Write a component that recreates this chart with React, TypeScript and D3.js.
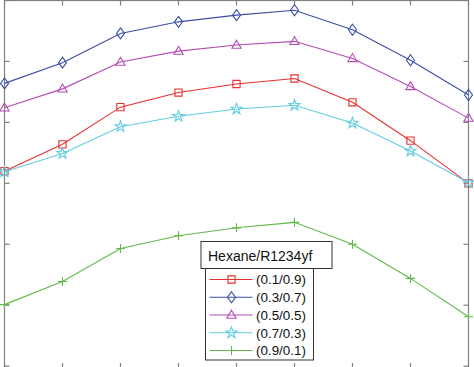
import React from "react";
import * as d3 from "d3";

const xValues = [0, 1, 2, 3, 4, 5, 6, 7, 8];
const seriesNames = ["(0.1/0.9)", "(0.3/0.7)", "(0.5/0.5)", "(0.7/0.3)", "(0.9/0.1)"];
const s01 = [3.2, 3.64, 4.25, 4.49, 4.63, 4.72, 4.33, 3.7, 3.0];
const s03 = [4.64, 4.98, 5.46, 5.65, 5.76, 5.84, 5.52, 5.02, 4.45];
const s05 = [4.24, 4.55, 4.99, 5.17, 5.27, 5.33, 5.05, 4.59, 4.07];
const s07 = [3.19, 3.49, 3.93, 4.1, 4.22, 4.28, 3.99, 3.53, 3.01];
const s09 = [1.01, 1.39, 1.93, 2.14, 2.27, 2.36, 2.0, 1.44, 0.81];
const yTicks = [0, 1, 2, 3, 4, 5, 6];
const legendTitle = "Hexane/R1234yf";

const seriesValues = [s01, s03, s05, s07, s09];
const colors = ["#e8302f", "#3b4ea6", "#b54db4", "#62cde0", "#62b84a"];
const markers = ["square", "diamond", "triangle", "star", "plus"];

function markerPath(kind: string): string {
  if (kind === "square") {
    const h = 3.6;
    return `M${-h},${-h}H${h}V${h}H${-h}Z`;
  }
  if (kind === "diamond") {
    return "M0,-5.5L4,0L0,5.5L-4,0Z";
  }
  if (kind === "triangle") {
    return "M0,-4.8L4.6,3.2L-4.6,3.2Z";
  }
  if (kind === "star") {
    return d3.symbol(d3.symbolStar, 38)() as string;
  }
  return "M-4.5,0H4.5M0,-4.5V4.5";
}

export default function App() {
  const W = 474;
  const H = 367;
  const left = 4.5;
  const right = 468.5;
  const top = 0.5;
  const bottom = 368;
  const x = d3.scaleLinear().domain([0, 8]).range([left, right]);
  const y = d3.scaleLinear().domain([-0.03, 6]).range([bottom, top]);
  const line = d3
    .line<number>()
    .x((_, i) => x(xValues[i]))
    .y((d) => y(d));
  const axisColor = "#808080";
  const tl = 5;

  const legX = 201;
  const legTitleY = 241.5;
  const legTitleH = 27;
  const legW = 131;
  const bodyX = 205.5;
  const bodyW = 108;
  const bodyTop = 268.5;
  const bodyH = 91.5;
  const rowY0 = 279.5;
  const rowStep = 17.75;

  return (
    <svg
      width={W}
      height={H}
      style={{ position: "absolute", left: 0, top: 0, background: "#fff" }}
      fontFamily="'Liberation Sans', Arial, sans-serif"
    >
      <rect x={0} y={0} width={W} height={H} fill="#fff" />
      <rect x={left} y={top} width={right - left} height={bottom - top} fill="none" stroke={axisColor} strokeWidth={1.2} />
      {xValues.map((v) => (
        <g key={"xt" + v}>
          <line x1={x(v)} x2={x(v)} y1={top} y2={top + tl} stroke={axisColor} strokeWidth={1.2} />
          <line x1={x(v)} x2={x(v)} y1={bottom} y2={bottom - tl} stroke={axisColor} strokeWidth={1.2} />
        </g>
      ))}
      {yTicks.map((v) => (
        <g key={"yt" + v}>
          <line x1={left} x2={left + tl} y1={y(v)} y2={y(v)} stroke={axisColor} strokeWidth={1.2} />
          <line x1={right} x2={right - tl} y1={y(v)} y2={y(v)} stroke={axisColor} strokeWidth={1.2} />
        </g>
      ))}
      {seriesValues.map((vals, si) => (
        <g key={"s" + si}>
          <path d={line(vals) as string} fill="none" stroke={colors[si]} strokeWidth={1.1} />
          {vals.map((v, i) => (
            <path
              key={i}
              d={markerPath(markers[si])}
              transform={`translate(${x(xValues[i])},${y(v)})`}
              fill="none"
              stroke={colors[si]}
              strokeWidth={1.1}
            />
          ))}
        </g>
      ))}
      <rect x={bodyX} y={bodyTop} width={bodyW} height={bodyH} fill="#fff" stroke="#333" strokeWidth={1} />
      <rect x={legX} y={legTitleY} width={legW} height={legTitleH} fill="#fff" stroke="#333" strokeWidth={1} />
      <text x={legX + 7} y={legTitleY + 19} fontSize={14} fill="#111">
        {legendTitle}
      </text>
      {seriesNames.map((name, si) => {
        const ry = rowY0 + si * rowStep;
        return (
          <g key={"lg" + si}>
            <line x1={209.5} x2={252.5} y1={ry} y2={ry} stroke={colors[si]} strokeWidth={1.1} />
            <path d={markerPath(markers[si])} transform={`translate(231.5,${ry})`} fill="none" stroke={colors[si]} strokeWidth={1.1} />
            <text x={256} y={ry + 4.8} fontSize={13.4} fill="#111">
              {name}
            </text>
          </g>
        );
      })}
    </svg>
  );
}
